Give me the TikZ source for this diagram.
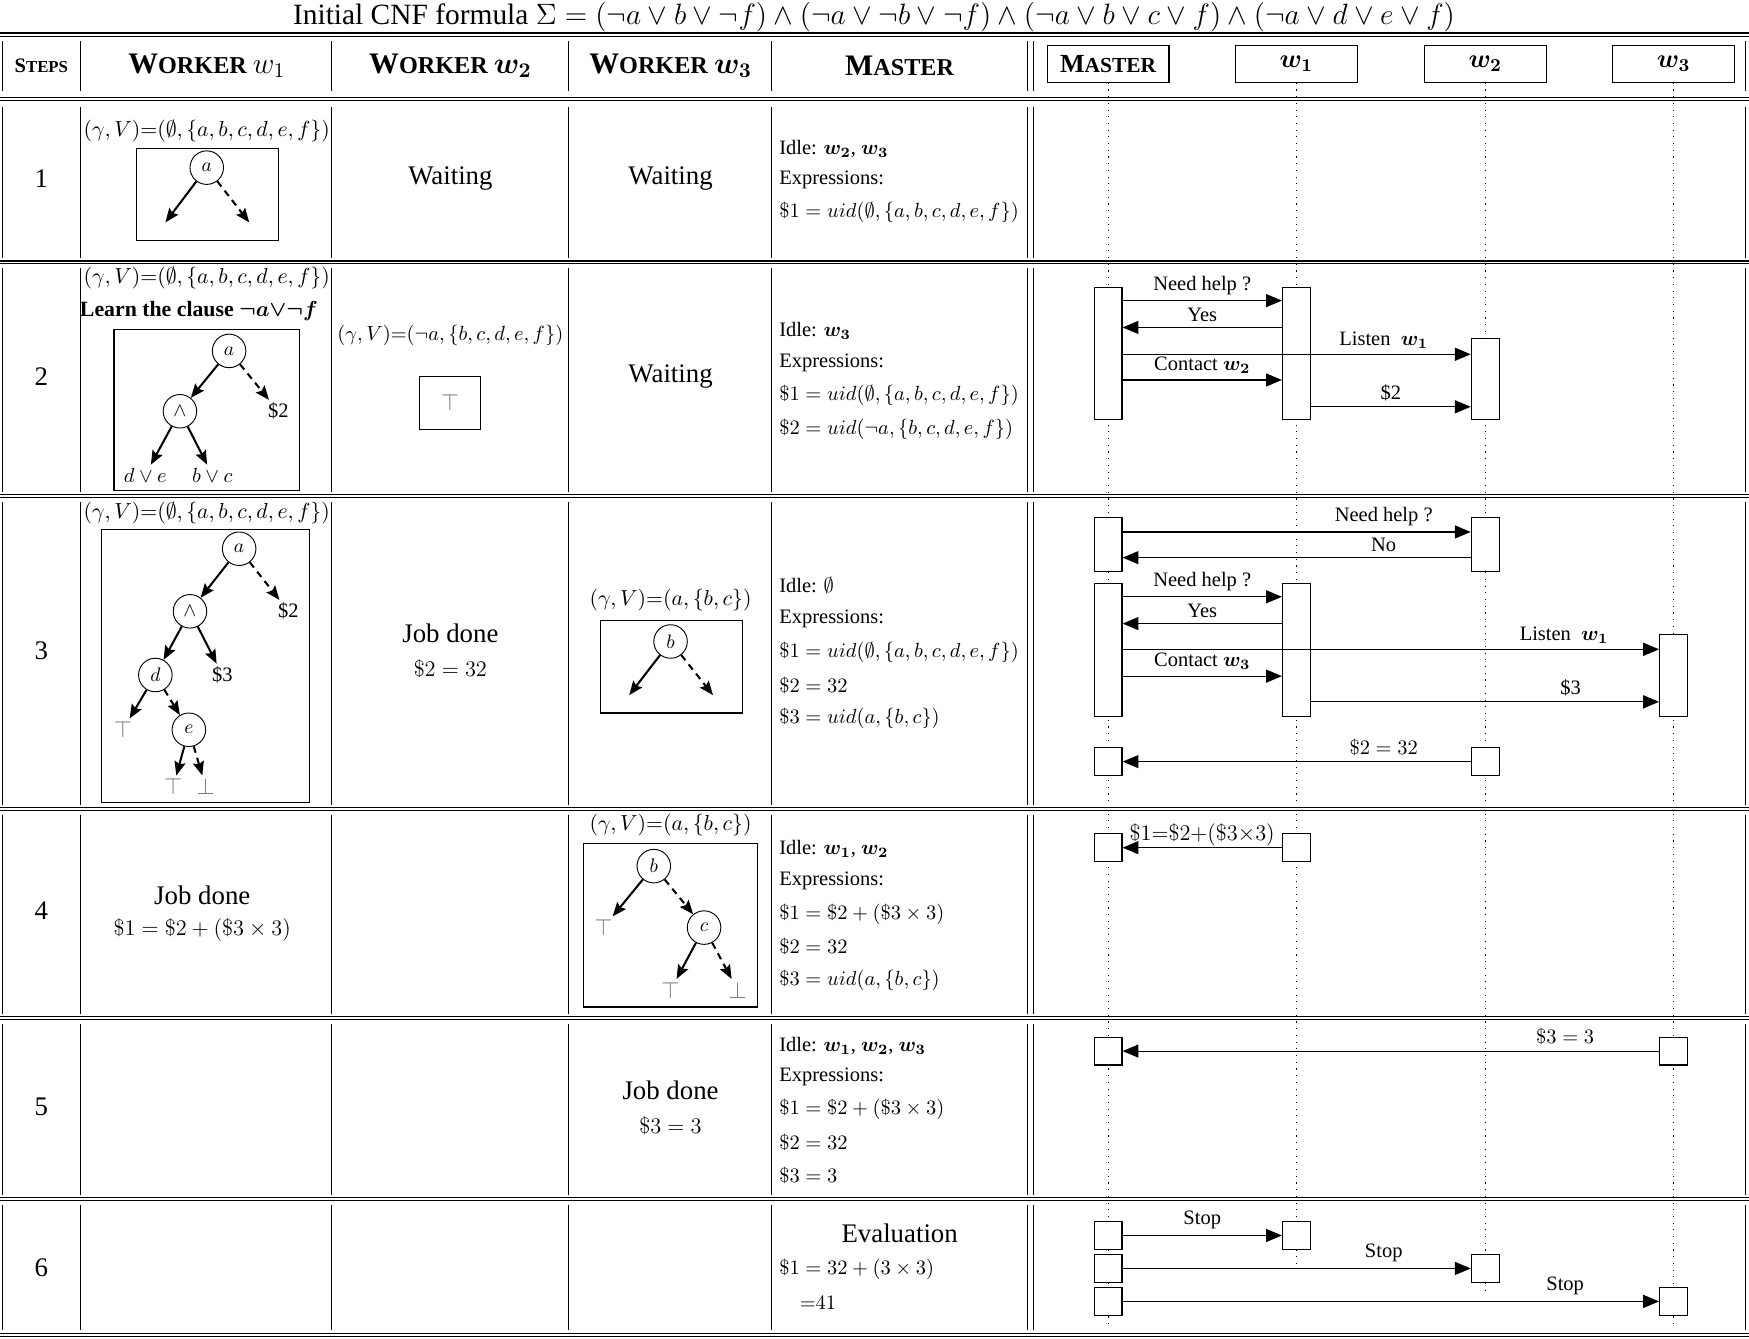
\RequirePackage{fix-cm}
\documentclass[tikz,border=0pt]{standalone}
\usepackage{amsmath}
\usepackage{amssymb}
\usepackage[no-math]{fontspec}
\setmainfont{Liberation Serif}
\usetikzlibrary{arrows.meta}
\begin{document}
\begin{tikzpicture}[x=0.6pt,y=-0.6pt,
 rt/.style={line width=1.1pt},
 rn/.style={line width=0.45pt},
 vl/.style={line width=0.55pt},
 big/.style={font=\fontsize{14.4}{17}\selectfont},
 med/.style={font=\fontsize{12}{14}\selectfont},
 mtxt/.style={anchor=west, inner sep=0pt, font=\fontsize{11}{13}\selectfont},
 ctxt/.style={inner sep=1pt, font=\fontsize{11.7}{14}\selectfont},
 tn/.style={draw, circle, minimum size=18pt, inner sep=0pt, line width=0.5pt, font=\fontsize{10.5}{12}\selectfont},
 lf/.style={inner sep=1.5pt, font=\fontsize{11}{13}\selectfont},
 tv/.style={inner sep=1.5pt, text=black!55, font=\fontsize{12.5}{14}\selectfont},
 sa/.style={-{Stealth[length=7.5pt,width=6pt,inset=1.2pt]}, line width=1.1pt},
 da/.style={sa, dash pattern=on 3.6pt off 2.8pt},
 tbox/.style={draw, line width=0.6pt},
 life/.style={line width=0.5pt, dash pattern=on 0.6pt off 3pt},
 act/.style={draw, fill=white, line width=0.6pt, minimum width=15pt, inner sep=0pt},
 sq/.style={act, minimum height=15pt},
 msg/.style={-{Triangle[length=8.5pt,width=7pt]}, line width=0.6pt},
 ml/.style={inner sep=3pt, font=\fontsize{11}{13}\selectfont},
 hbox/.style={draw, line width=0.6pt, minimum width=65.4pt, minimum height=19.8pt, inner sep=0pt},
]
\useasboundingbox (0,0) rectangle (1565,1198);

% ---------- title ----------
\node[inner sep=0pt, font=\fontsize{15.8}{18}\selectfont] (title) at (782,15.5) {Initial CNF formula $\Sigma = (\neg a \vee b \vee \neg f) \wedge (\neg a \vee \neg b \vee \neg f) \wedge (\neg a \vee b \vee c \vee f) \wedge (\neg a \vee d \vee e \vee f)$};

% ---------- rules ----------
\draw[rt] (0,29.8) -- (1565,29.8);
\draw[rn] (0,32.6) -- (1565,32.6);
\draw[rn] (0,87.2) -- (1565,87.2);
\draw[rn] (0,89.6) -- (1565,89.6);
\foreach \y in {233.5,442.5,722.5,909.5,1071.5} {
  \draw[line width=0.7pt] (0,\y) -- (1565,\y);
  \draw[line width=0.4pt] (0,\y+2.2) -- (1565,\y+2.2);
}
\draw[line width=0.7pt] (0,1193.3) -- (1565,1193.3);
\draw[line width=0.7pt] (0,1195.9) -- (1565,1195.9);
\foreach \t/\b in {37/81, 96/231, 240/440, 449/720, 729/907, 916/1069, 1078/1190} {
  \foreach \x in {2.5,72,297,509,690.5,919.5,924.5,1562} {
    \draw[vl] (\x,\t) -- (\x,\b);
  }
}

% ---------- headers ----------
\node (hS) at (37,59) {\bfseries\fontsize{11}{13}\selectfont S\fontsize{9}{11}\selectfont TEPS};
\node (hW1) at (185,59) {\fontsize{16}{19}\selectfont\bfseries W\fontsize{13}{15}\selectfont ORKER \fontsize{16}{19}\selectfont$w_1$};
\node (hW2) at (403,59) {\fontsize{16}{19}\selectfont\bfseries W\fontsize{13}{15}\selectfont ORKER \fontsize{16}{19}\selectfont$\boldsymbol{w_2}$};
\node (hW3) at (600,59) {\fontsize{16}{19}\selectfont\bfseries W\fontsize{13}{15}\selectfont ORKER \fontsize{16}{19}\selectfont$\boldsymbol{w_3}$};
\node (hMa) at (805,59) {\fontsize{16}{19}\selectfont\bfseries M\fontsize{13}{15}\selectfont ASTER};

\node[hbox] (hM) at (991.5,57) {\bfseries\fontsize{14}{16}\selectfont M\fontsize{11.5}{13}\selectfont ASTER};
\node[hbox] (hw1) at (1160,57) {\fontsize{14}{16}\selectfont$\boldsymbol{w_1}$};
\node[hbox] (hw2) at (1329,57) {\fontsize{14}{16}\selectfont$\boldsymbol{w_2}$};
\node[hbox] (hw3) at (1497.5,57) {\fontsize{14}{16}\selectfont$\boldsymbol{w_3}$};

% lifelines
\coordinate (eM) at (991.5,1188);
\coordinate (ew1) at (1160,1134);
\coordinate (ew2) at (1329,1158);
\coordinate (ew3) at (1497.5,1188);
\draw[life] (hM.south) -- (eM);
\draw[life] (hw1.south) -- (ew1);
\draw[life] (hw2.south) -- (ew2);
\draw[life] (hw3.south) -- (ew3);

% ---------- step numbers ----------
\node[big] (s1) at (37,160) {1};
\node[big] (s2) at (37,337) {2};
\node[big] (s3) at (37,582) {3};
\node[big] (s4) at (37,815) {4};
\node[big] (s5) at (37,990) {5};
\node[big] (s6) at (37,1134) {6};

% ---------- row 1 ----------
\node[ctxt] (r1l) at (185,117) {$(\gamma,V){=}(\emptyset,\{a,b,c,d,e,f\})$};
\draw[tbox] (122,133) rectangle (249,215);
\node[tn] (t1a) at (185,150) {$a$};
\coordinate (t1l) at (148,199);
\coordinate (t1r) at (223,199);
\draw[sa] (t1a) -- (t1l);
\draw[da] (t1a) -- (t1r);
\node[big] (r1w2) at (403,160) {Waiting};
\node[big] (r1w3) at (600,160) {Waiting};
\node[mtxt] (m1a) at (697,133) {Idle: $\boldsymbol{w_2}$, $\boldsymbol{w_3}$};
\node[mtxt] (m1b) at (697,161) {Expressions:};
\node[mtxt] (m1c) at (697,190) {$\$1=uid(\emptyset, \{a,b,c,d,e,f\})$};

% ---------- row 2 ----------
\node[ctxt] (r2l) at (185,249) {$(\gamma,V){=}(\emptyset,\{a,b,c,d,e,f\})$};
\node[ctxt] (r2lc) at (178,278) {\bfseries Learn the clause $\boldsymbol{\neg a{\vee}\neg f}$};
\draw[tbox] (102,295) rectangle (268,439);
\node[tn] (t2a) at (205,314) {$a$};
\node[tn] (t2and) at (161,368) {$\wedge$};
\node[lf] (t2s2) at (249,368) {\$2};
\node[lf] (t2de) at (130,425) {$d\vee e$};
\node[lf] (t2bc) at (190,425) {$b\vee c$};
\draw[sa] (t2a) -- (t2and);
\draw[da] (t2a) -- (t2s2);
\draw[sa] (t2and) -- (t2de);
\draw[sa] (t2and) -- (t2bc);
\node[ctxt, font=\fontsize{11}{13}\selectfont] (r2w2l) at (403,300) {$(\gamma,V){=}(\neg a,\{b,c,d,e,f\})$};
\node[draw, line width=0.6pt, minimum width=33pt, minimum height=28.2pt, inner sep=0pt, text=black!55, font=\fontsize{12.5}{14}\selectfont] (r2top) at (402.5,360.5) {$\top$};
\node[big] (r2w3) at (600,337) {Waiting};
\node[mtxt] (m2a) at (697,296) {Idle: $\boldsymbol{w_3}$};
\node[mtxt] (m2b) at (697,325) {Expressions:};
\node[mtxt] (m2c) at (697,354) {$\$1=uid(\emptyset, \{a,b,c,d,e,f\})$};
\node[mtxt] (m2d) at (697,384) {$\$2=uid(\neg a, \{b,c,d,e,f\})$};

% ---------- row 3 ----------
\node[ctxt] (r3l) at (185,459) {$(\gamma,V){=}(\emptyset,\{a,b,c,d,e,f\})$};
\draw[tbox] (91,474) rectangle (277,718);
\node[tn] (t3a) at (214,491) {$a$};
\node[tn] (t3and) at (170,547) {$\wedge$};
\node[lf] (t3s2) at (258,547) {\$2};
\node[tn] (t3d) at (139,604) {$d$};
\node[lf] (t3s3) at (199,604) {\$3};
\node[tv] (t3t1) at (110,653) {$\top$};
\node[tn] (t3e) at (169,653) {$e$};
\node[tv] (t3t2) at (155,704) {$\top$};
\node[tv] (t3b) at (184,704) {$\bot$};
\draw[sa] (t3a) -- (t3and);
\draw[da] (t3a) -- (t3s2);
\draw[sa] (t3and) -- (t3d);
\draw[sa] (t3and) -- (t3s3);
\draw[sa] (t3d) -- (t3t1);
\draw[da] (t3d) -- (t3e);
\draw[sa] (t3e) -- (t3t2);
\draw[da] (t3e) -- (t3b);
\node[big] (r3w2a) at (403,567) {Job done};
\node[med] (r3w2b) at (403,598) {$\$2 = 32$};
\node[ctxt] (r3w3l) at (600,537) {$(\gamma,V){=}(a,\{b,c\})$};
\draw[tbox] (537,555) rectangle (664,638);
\node[tn] (t3wb) at (600,574) {$b$};
\coordinate (t3wl) at (563,622);
\coordinate (t3wr) at (638,622);
\draw[sa] (t3wb) -- (t3wl);
\draw[da] (t3wb) -- (t3wr);
\node[mtxt] (m3a) at (697,524) {Idle: $\emptyset$};
\node[mtxt] (m3b) at (697,554) {Expressions:};
\node[mtxt] (m3c) at (697,584) {$\$1=uid(\emptyset, \{a,b,c,d,e,f\})$};
\node[mtxt] (m3d) at (697,613) {$\$2=32$};
\node[mtxt] (m3e) at (697,643) {$\$3=uid(a, \{b,c\})$};

% ---------- row 4 ----------
\node[big] (r4w1a) at (181,801) {Job done};
\node[med] (r4w1b) at (181,832) {$\$1 = \$2 + (\$3 \times 3)$};
\node[ctxt] (r4w3l) at (600,738) {$(\gamma,V){=}(a,\{b,c\})$};
\draw[tbox] (522,755) rectangle (678,901);
\node[tn] (t4b) at (585,775) {$b$};
\node[tv] (t4t1) at (540,830) {$\top$};
\node[tn] (t4c) at (630,830) {$c$};
\node[tv] (t4t2) at (600,886) {$\top$};
\node[tv] (t4bot) at (660,886) {$\bot$};
\draw[sa] (t4b) -- (t4t1);
\draw[da] (t4b) -- (t4c);
\draw[sa] (t4c) -- (t4t2);
\draw[da] (t4c) -- (t4bot);
\node[mtxt] (m4a) at (697,760) {Idle: $\boldsymbol{w_1}$, $\boldsymbol{w_2}$};
\node[mtxt] (m4b) at (697,788) {Expressions:};
\node[mtxt] (m4c) at (697,818) {$\$1=\$2 + (\$3 \times 3)$};
\node[mtxt] (m4d) at (697,847) {$\$2=32$};
\node[mtxt] (m4e) at (697,877) {$\$3=uid(a, \{b,c\})$};

% ---------- row 5 ----------
\node[big] (r5w3a) at (600,976) {Job done};
\node[med] (r5w3b) at (600,1007) {$\$3 = 3$};
\node[mtxt] (m5a) at (697,936) {Idle: $\boldsymbol{w_1}$, $\boldsymbol{w_2}$, $\boldsymbol{w_3}$};
\node[mtxt] (m5b) at (697,964) {Expressions:};
\node[mtxt] (m5c) at (697,993) {$\$1=\$2 + (\$3 \times 3)$};
\node[mtxt] (m5d) at (697,1022) {$\$2=32$};
\node[mtxt] (m5e) at (697,1052) {$\$3=3$};

% ---------- row 6 ----------
\node[big] (m6a) at (805,1104) {Evaluation};
\node[mtxt] (m6b) at (697,1136) {$\$1=32 + (3 \times 3)$};
\node[mtxt] (m6c) at (697,1165) {$\phantom{\$1}{=}41$};

% ---------- sequence diagram ----------
% row 2
\node[act, minimum height=70.8pt] (a2M) at (991.5,316) {};
\node[act, minimum height=70.8pt] (a2w1) at (1160,316) {};
\node[act, minimum height=43.2pt] (a2w2) at (1329,339) {};
\draw[msg] (a2M.east |- 0,269) -- (a2w1.west |- 0,269) node[ml,above,midway] {Need help ?};
\draw[msg] (a2w1.west |- 0,293) -- (a2M.east |- 0,293) node[ml,above,midway] {Yes};
\draw[msg] (a2M.east |- 0,317) -- (a2w2.west |- 0,317) node[ml,above,pos=0.75] {Listen\enspace$\boldsymbol{w_1}$};
\draw[msg] (a2M.east |- 0,340) -- (a2w1.west |- 0,340) node[ml,above,midway] {Contact $\boldsymbol{w_2}$};
\draw[msg] (a2w1.east |- 0,364) -- (a2w2.west |- 0,364) node[ml,above,midway] {\$2};

% row 3
\node[act, minimum height=28.8pt] (a3M1) at (991.5,487) {};
\node[act, minimum height=28.8pt] (a3w2) at (1329,487) {};
\node[act, minimum height=71.4pt] (a3M2) at (991.5,581.5) {};
\node[act, minimum height=71.4pt] (a3w1) at (1160,581.5) {};
\node[act, minimum height=43.8pt] (a3w3) at (1497.5,604.5) {};
\node[sq] (a3M3) at (991.5,681.5) {};
\node[sq] (a3w2b) at (1329,681.5) {};
\draw[msg] (a3M1.east |- 0,476) -- (a3w2.west |- 0,476) node[ml,above,pos=0.75] {Need help ?};
\draw[msg] (a3w2.west |- 0,499) -- (a3M1.east |- 0,499) node[ml,above,pos=0.25] {No};
\draw[msg] (a3M2.east |- 0,534) -- (a3w1.west |- 0,534) node[ml,above,midway] {Need help ?};
\draw[msg] (a3w1.west |- 0,558) -- (a3M2.east |- 0,558) node[ml,above,midway] {Yes};
\draw[msg] (a3M2.east |- 0,581) -- (a3w3.west |- 0,581) node[ml,above,pos=0.823] {Listen\enspace$\boldsymbol{w_1}$};
\draw[msg] (a3M2.east |- 0,605) -- (a3w1.west |- 0,605) node[ml,above,midway] {Contact $\boldsymbol{w_3}$};
\draw[msg] (a3w1.east |- 0,628) -- (a3w3.west |- 0,628) node[ml,above,pos=0.746] {\$3};
\draw[msg] (a3w2b) -- (a3M3) node[ml,above,pos=0.25] {$\$2 = 32$};

% row 4
\node[sq] (a4M) at (991.5,758.5) {};
\node[sq] (a4w1) at (1160,758.5) {};
\draw[msg] (a4w1) -- (a4M) node[ml,above,midway,inner sep=0.5pt,font=\fontsize{12}{14}\selectfont] {$\$1{=}\$2{+}(\$3{\times}3)$};

% row 5
\node[sq] (a5M) at (991.5,940.5) {};
\node[sq] (a5w3) at (1497.5,940.5) {};
\draw[msg] (a5w3) -- (a5M) node[ml,above,pos=0.175] {$\$3 = 3$};

% row 6
\node[sq] (a6M1) at (991.5,1105.5) {};
\node[sq] (a6w1) at (1160,1105.5) {};
\node[sq] (a6M2) at (991.5,1135) {};
\node[sq] (a6w2) at (1329,1135) {};
\node[sq] (a6M3) at (991.5,1164.5) {};
\node[sq] (a6w3) at (1497.5,1164.5) {};
\draw[msg] (a6M1) -- (a6w1) node[ml,above,midway] {Stop};
\draw[msg] (a6M2) -- (a6w2) node[ml,above,pos=0.75] {Stop};
\draw[msg] (a6M3) -- (a6w3) node[ml,above,pos=0.825] {Stop};
\end{tikzpicture}
\end{document}
